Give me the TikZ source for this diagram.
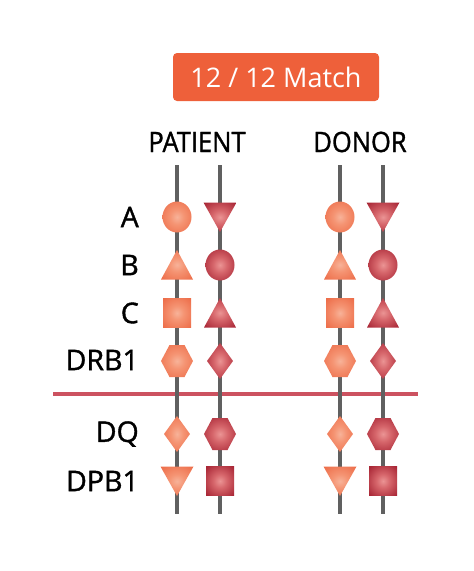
\documentclass[tikz,border=0pt]{standalone}
\usepackage{fontspec}
\setmainfont{Open Sans}
\newfontfamily\labfont{Open Sans}[FakeBold=1.3]
\pgfdeclareradialshading{orangeball}{\pgfpoint{0bp}{0bp}}{rgb(0bp)=(0.97,0.70,0.60); rgb(12bp)=(0.96,0.58,0.45); rgb(34bp)=(0.93,0.43,0.29); rgb(100bp)=(0.93,0.43,0.29)}
\pgfdeclareradialshading{redball}{\pgfpoint{0bp}{0bp}}{rgb(0bp)=(0.92,0.58,0.58); rgb(12bp)=(0.84,0.40,0.42); rgb(34bp)=(0.66,0.15,0.21); rgb(100bp)=(0.66,0.15,0.21)}
\definecolor{badge}{RGB}{238,96,58}
\definecolor{chrom}{RGB}{96,96,96}
\definecolor{divider}{RGB}{204,82,96}
\newcommand\shBall[3]{\shade[shading=#3] (#1,#2) ellipse (14.5 and 15.5);}
\newcommand\shUp[3]{\shade[shading=#3] (#1,#2) ++(0,-15) -- ++(16,29.5) -- ++(-32,0) -- cycle;}
\newcommand\shDown[3]{\shade[shading=#3] (#1,#2) ++(0,15) -- ++(16.5,-29.5) -- ++(-33,0) -- cycle;}
\newcommand\shSq[3]{\shade[shading=#3] (#1,#2) ++(-14,-14.5) rectangle ++(28,29);}
\newcommand\shHex[3]{\shade[shading=#3] (#1,#2) ++(-16,0) -- ++(8.5,-16) -- ++(15,0) -- ++(8.5,16) -- ++(-8.5,16) -- ++(-15,0) -- cycle;}
\newcommand\shDia[3]{\shade[shading=#3] (#1,#2) ++(0,-18) -- ++(13,18) -- ++(-13,18) -- ++(-13,-18) -- cycle;}
\newcommand\tallt[1]{\scalebox{1}[1.1]{#1}}
\tikzset{
  lab/.style={anchor=east, font=\labfont\fontsize{28.5}{31}\selectfont, text=black, inner sep=0pt},
  head/.style={anchor=base, font=\labfont\fontsize{25.5}{28}\selectfont, text=black, inner sep=0pt},
  chromline/.style={draw=chrom, line width=3.5pt},
}
\begin{document}
\begin{tikzpicture}[x=1pt,y=-1pt]
\useasboundingbox (0,0) rectangle (474,571);
% badge
\node[fill=badge, rounded corners=4pt, minimum width=206pt, minimum height=48pt, inner sep=0pt,
      text=white, font=\fontsize{27}{30}\selectfont] (badge) at (276,77) {12 / 12 Match};
% headers
\node[head] (patient) at (197,152) {\tallt{PATIENT}};
\node[head] (donor) at (360,152) {\tallt{DONOR}};
% divider
\coordinate (dl) at (53,394);
\coordinate (dr) at (418,394);
\draw[divider, line width=4pt] (dl) -- (dr);
% chromosomes
\foreach \n/\x in {p1/177,p2/220,d1/340,d2/383}{
  \coordinate (\n t) at (\x,165);
  \coordinate (\n b) at (\x,514);
  \draw[chromline] (\n t) -- (\n b);
}
% labels
\node[lab] (lA) at (139,217) {A};
\node[lab] (lB) at (139,265) {B};
\node[lab] (lC) at (139,313) {C};
\node[lab] (lDRB) at (139,360) {DRB1};
\node[lab] (lDQ) at (139,434) {DQ};
\node[lab] (lDPB) at (139,481) {DPB1};
% alleles
\foreach \x in {177,340}{
  \shBall{\x}{217}{orangeball}
  \shUp{\x}{265}{orangeball}
  \shSq{\x}{313}{orangeball}
  \shHex{\x}{361}{orangeball}
  \shDia{\x}{434}{orangeball}
  \shDown{\x}{481}{orangeball}
}
\foreach \x in {220,383}{
  \shDown{\x}{217}{redball}
  \shBall{\x}{265}{redball}
  \shUp{\x}{313}{redball}
  \shDia{\x}{361}{redball}
  \shHex{\x}{434}{redball}
  \shSq{\x}{481}{redball}
}
\end{tikzpicture}
\end{document}
